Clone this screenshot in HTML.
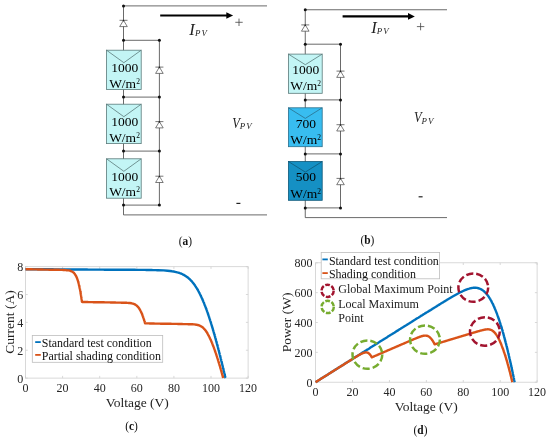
<!DOCTYPE html>
<html><head><meta charset="utf-8"><title>PV shading figure</title>
<style>html,body{margin:0;padding:0;background:#fff}body{width:550px;height:438px;position:relative;overflow:hidden}</style></head>
<body>
<svg width="550" height="438" viewBox="0 0 550 438" style="position:absolute;left:0;top:0">
<rect width="550" height="438" fill="#fff"/>
<style>text{font-family:"Liberation Serif",serif;fill:#222}.pt{font-size:13.5px;text-anchor:middle;fill:#000}.tk{font-size:12px;text-anchor:middle;fill:#262626}.tkr{font-size:12px;text-anchor:end;fill:#262626}.lg{font-size:11.93px;fill:#111}.ax{font-size:13.5px;fill:#222;text-anchor:middle}.cap{font-size:11.4px;text-anchor:middle;fill:#111}.it{font-style:italic;fill:#222}</style>
<path d="M267,5.9 H123.5 V214.9 H267" stroke="#444" stroke-width="0.8" fill="none"/>
<path d="M123.5,40.3 H159.4 V205.1 H123.5" stroke="#444" stroke-width="0.8" fill="none"/>
<path d="M123.5,97.1 H159.4" stroke="#444" stroke-width="0.8" fill="none"/>
<path d="M123.5,151.1 H159.4" stroke="#444" stroke-width="0.8" fill="none"/>
<circle cx="123.5" cy="5.9" r="1.5" fill="#111"/>
<circle cx="123.5" cy="40.3" r="1.5" fill="#111"/>
<circle cx="159.4" cy="40.3" r="1.5" fill="#111"/>
<circle cx="123.5" cy="97.1" r="1.5" fill="#111"/>
<circle cx="159.4" cy="97.1" r="1.5" fill="#111"/>
<circle cx="123.5" cy="151.1" r="1.5" fill="#111"/>
<circle cx="159.4" cy="151.1" r="1.5" fill="#111"/>
<circle cx="123.5" cy="205.1" r="1.5" fill="#111"/>
<circle cx="159.4" cy="205.1" r="1.5" fill="#111"/>
<path d="M123.5,20.3 L127.3,26.6 H119.7 Z" stroke="#444" stroke-width="0.7" fill="#fff"/><path d="M119.5,20.3 H127.5" stroke="#555" stroke-width="0.8"/><circle cx="123.5" cy="20.6" r="0.8" fill="#222"/>
<path d="M159.4,67.1 L163.20000000000002,73.39999999999999 H155.6 Z" stroke="#444" stroke-width="0.7" fill="#fff"/><path d="M155.4,67.1 H163.4" stroke="#555" stroke-width="0.8"/><circle cx="159.4" cy="67.39999999999999" r="0.8" fill="#222"/>
<path d="M159.4,121.6 L163.20000000000002,127.89999999999999 H155.6 Z" stroke="#444" stroke-width="0.7" fill="#fff"/><path d="M155.4,121.6 H163.4" stroke="#555" stroke-width="0.8"/><circle cx="159.4" cy="121.89999999999999" r="0.8" fill="#222"/>
<path d="M159.4,176.2 L163.20000000000002,182.5 H155.6 Z" stroke="#444" stroke-width="0.7" fill="#fff"/><path d="M155.4,176.2 H163.4" stroke="#555" stroke-width="0.8"/><circle cx="159.4" cy="176.5" r="0.8" fill="#222"/>
<rect x="106.5" y="50.2" width="34.69999999999999" height="39.3" fill="#c3f5f5" stroke="#5a7a7a" stroke-width="0.8"/>
<path d="M106.5,50.2 L123.85,62.7 L141.2,50.2" stroke="#5a7a7a" stroke-width="0.8" fill="none"/>
<text x="124.70" y="72.10" class="pt">1000</text>
<text x="124.50" y="87.60" class="pt">W/m<tspan dy="-3.8" font-size="7.5">2</tspan></text>
<rect x="106.5" y="104.2" width="34.69999999999999" height="39.39999999999999" fill="#c3f5f5" stroke="#5a7a7a" stroke-width="0.8"/>
<path d="M106.5,104.2 L123.85,116.7 L141.2,104.2" stroke="#5a7a7a" stroke-width="0.8" fill="none"/>
<text x="124.70" y="126.10" class="pt">1000</text>
<text x="124.50" y="141.60" class="pt">W/m<tspan dy="-3.8" font-size="7.5">2</tspan></text>
<rect x="106.5" y="158.8" width="34.69999999999999" height="39.39999999999998" fill="#c3f5f5" stroke="#5a7a7a" stroke-width="0.8"/>
<path d="M106.5,158.8 L123.85,171.3 L141.2,158.8" stroke="#5a7a7a" stroke-width="0.8" fill="none"/>
<text x="124.70" y="180.70" class="pt">1000</text>
<text x="124.50" y="196.20" class="pt">W/m<tspan dy="-3.8" font-size="7.5">2</tspan></text>
<path d="M447,9.75 H305.25 V217.6 H447" stroke="#444" stroke-width="0.8" fill="none"/>
<path d="M305.25,44.2 H340.5 V207.9 H305.25" stroke="#444" stroke-width="0.8" fill="none"/>
<path d="M305.25,99.9 H340.5" stroke="#444" stroke-width="0.8" fill="none"/>
<path d="M305.25,153.9 H340.5" stroke="#444" stroke-width="0.8" fill="none"/>
<circle cx="305.25" cy="9.75" r="1.5" fill="#111"/>
<circle cx="305.25" cy="44.2" r="1.5" fill="#111"/>
<circle cx="340.5" cy="44.2" r="1.5" fill="#111"/>
<circle cx="305.25" cy="99.9" r="1.5" fill="#111"/>
<circle cx="340.5" cy="99.9" r="1.5" fill="#111"/>
<circle cx="305.25" cy="153.9" r="1.5" fill="#111"/>
<circle cx="340.5" cy="153.9" r="1.5" fill="#111"/>
<circle cx="305.25" cy="207.9" r="1.5" fill="#111"/>
<circle cx="340.5" cy="207.9" r="1.5" fill="#111"/>
<path d="M305.25,24.9 L309.05,31.2 H301.45 Z" stroke="#444" stroke-width="0.7" fill="#fff"/><path d="M301.25,24.9 H309.25" stroke="#555" stroke-width="0.8"/><circle cx="305.25" cy="25.2" r="0.8" fill="#222"/>
<path d="M340.5,71.1 L344.3,77.39999999999999 H336.7 Z" stroke="#444" stroke-width="0.7" fill="#fff"/><path d="M336.5,71.1 H344.5" stroke="#555" stroke-width="0.8"/><circle cx="340.5" cy="71.39999999999999" r="0.8" fill="#222"/>
<path d="M340.5,124.7 L344.3,131.0 H336.7 Z" stroke="#444" stroke-width="0.7" fill="#fff"/><path d="M336.5,124.7 H344.5" stroke="#555" stroke-width="0.8"/><circle cx="340.5" cy="125.0" r="0.8" fill="#222"/>
<path d="M340.5,178.4 L344.3,184.70000000000002 H336.7 Z" stroke="#444" stroke-width="0.7" fill="#fff"/><path d="M336.5,178.4 H344.5" stroke="#555" stroke-width="0.8"/><circle cx="340.5" cy="178.70000000000002" r="0.8" fill="#222"/>
<rect x="288.4" y="54.1" width="33.80000000000001" height="39.199999999999996" fill="#c3f5f5" stroke="#5a7a7a" stroke-width="0.8"/>
<path d="M288.4,54.1 L305.30,64.7 L322.2,54.1" stroke="#5a7a7a" stroke-width="0.8" fill="none"/>
<text x="305.75" y="73.90" class="pt">1000</text>
<text x="305.55" y="90.20" class="pt">W/m<tspan dy="-3.8" font-size="7.5">2</tspan></text>
<rect x="288.4" y="107.8" width="33.80000000000001" height="38.89999999999999" fill="#38bdf0" stroke="#2a6f8c" stroke-width="0.8"/>
<path d="M288.4,107.8 L305.30,118.39999999999999 L322.2,107.8" stroke="#2a6f8c" stroke-width="0.8" fill="none"/>
<text x="305.75" y="127.60" class="pt">700</text>
<text x="305.55" y="143.90" class="pt">W/m<tspan dy="-3.8" font-size="7.5">2</tspan></text>
<rect x="288.4" y="161.5" width="33.80000000000001" height="38.80000000000001" fill="#1590c4" stroke="#0e5878" stroke-width="0.8"/>
<path d="M288.4,161.5 L305.30,172.1 L322.2,161.5" stroke="#0e5878" stroke-width="0.8" fill="none"/>
<text x="305.75" y="181.30" class="pt">500</text>
<text x="305.55" y="197.60" class="pt">W/m<tspan dy="-3.8" font-size="7.5">2</tspan></text>
<path d="M160.2,15.5 H227.1" stroke="#000" stroke-width="2.2"/><path d="M233.1,15.5 L226.29999999999998,12.15 V18.85 Z" fill="#000"/>
<path d="M342.6,16.4 H408.8" stroke="#000" stroke-width="2.2"/><path d="M414.8,16.4 L408.0,13.049999999999999 V19.75 Z" fill="#000"/>
<path d="M235.3,22.3 H242.7 M239.0,18.6 V26.0" stroke="#444" stroke-width="0.8"/>
<path d="M416.90000000000003,26.6 H424.3 M420.6,22.900000000000002 V30.3" stroke="#444" stroke-width="0.8"/>
<path d="M236.4,203.4 H240.4" stroke="#222" stroke-width="1.2"/>
<path d="M418.6,196.8 H422.6" stroke="#222" stroke-width="1.2"/>
<text x="189.3" y="34.6" class="it" font-size="16.5">I</text><text x="194.90" y="35.90" class="it" font-size="8.9" letter-spacing="1.1">PV</text>
<text x="371.2" y="33.0" class="it" font-size="16.5">I</text><text x="376.80" y="34.30" class="it" font-size="8.9" letter-spacing="1.1">PV</text>
<text transform="translate(232.3,127.5) scale(0.84,1.04)" class="it" font-size="15">V</text><text x="239.70" y="128.90" class="it" font-size="8.9" letter-spacing="1.1">PV</text>
<text transform="translate(414.1,122.1) scale(0.84,1.04)" class="it" font-size="15">V</text><text x="421.50" y="123.50" class="it" font-size="8.9" letter-spacing="1.1">PV</text>
<text transform="translate(185.3,244.7) scale(1,1.17)" class="cap">(<tspan font-weight="bold">a</tspan>)</text>
<text transform="translate(367.4,243.9) scale(1,1.17)" class="cap">(<tspan font-weight="bold">b</tspan>)</text>
<text transform="translate(131.5,429.7) scale(1,1.17)" class="cap">(<tspan font-weight="bold">c</tspan>)</text>
<text transform="translate(420.5,433.6) scale(1,1.17)" class="cap">(<tspan font-weight="bold">d</tspan>)</text>
<rect x="25.5" y="266.7" width="222.6" height="111.40000000000003" stroke="#cfcfcf" stroke-width="0.8" fill="none"/>
<text x="25.50" y="392.1" class="tk">0</text>
<text x="62.60" y="392.1" class="tk">20</text>
<text x="99.70" y="392.1" class="tk">40</text>
<text x="136.80" y="392.1" class="tk">60</text>
<text x="173.90" y="392.1" class="tk">80</text>
<text x="211.00" y="392.1" class="tk">100</text>
<text x="248.10" y="392.1" class="tk">120</text>
<text x="23.2" y="382.60" class="tkr">0</text>
<text x="23.2" y="354.74" class="tkr">2</text>
<text x="23.2" y="326.88" class="tkr">4</text>
<text x="23.2" y="299.02" class="tkr">6</text>
<text x="23.2" y="271.16" class="tkr">8</text>
<path d="M25.50,378.1 v-2.2 M25.50,266.7 v2.2 M62.60,378.1 v-2.2 M62.60,266.7 v2.2 M99.70,378.1 v-2.2 M99.70,266.7 v2.2 M136.80,378.1 v-2.2 M136.80,266.7 v2.2 M173.90,378.1 v-2.2 M173.90,266.7 v2.2 M211.00,378.1 v-2.2 M211.00,266.7 v2.2 M248.10,378.1 v-2.2 M248.10,266.7 v2.2 M25.5,378.10 h2.2 M248.1,378.10 h-2.2 M25.5,350.24 h2.2 M248.1,350.24 h-2.2 M25.5,322.38 h2.2 M248.1,322.38 h-2.2 M25.5,294.52 h2.2 M248.1,294.52 h-2.2 M25.5,266.66 h2.2 M248.1,266.66 h-2.2" stroke="#cfcfcf" stroke-width="0.8" fill="none"/>
<path d="M25.5,269.2 L26.6,269.2 L27.9,269.2 L29.1,269.2 L30.4,269.2 L31.6,269.2 L32.9,269.2 L34.2,269.2 L35.4,269.2 L36.7,269.3 L37.9,269.3 L39.2,269.3 L40.4,269.3 L41.7,269.3 L43.0,269.3 L44.2,269.3 L45.5,269.3 L46.7,269.3 L48.0,269.3 L49.2,269.3 L50.5,269.3 L51.8,269.3 L53.0,269.3 L53.8,269.4 L54.3,269.4 L55.5,269.4 L56.8,269.4 L58.1,269.4 L59.3,269.4 L60.6,269.4 L61.8,269.4 L63.1,269.4 L64.3,269.4 L65.6,269.4 L66.9,269.4 L68.1,269.4 L69.4,269.4 L70.6,269.5 L71.9,269.5 L73.1,269.5 L74.4,269.5 L75.7,269.5 L76.9,269.5 L78.2,269.5 L79.4,269.5 L80.7,269.5 L82.0,269.5 L83.2,269.5 L84.5,269.5 L85.7,269.5 L87.0,269.5 L88.2,269.6 L89.5,269.6 L90.7,269.6 L92.0,269.6 L93.3,269.6 L94.5,269.6 L95.8,269.6 L97.0,269.6 L98.3,269.6 L99.5,269.6 L100.0,269.6 L100.8,269.6 L102.0,269.6 L103.3,269.6 L104.5,269.7 L105.8,269.7 L107.0,269.7 L108.3,269.7 L109.5,269.7 L110.8,269.7 L112.0,269.7 L113.2,269.7 L114.5,269.7 L115.7,269.7 L116.9,269.7 L118.1,269.7 L119.4,269.7 L120.6,269.8 L121.8,269.8 L122.9,269.8 L124.1,269.8 L125.3,269.8 L126.4,269.8 L127.6,269.8 L128.7,269.8 L129.8,269.8 L130.9,269.8 L132.0,269.8 L133.0,269.8 L134.0,269.8 L135.0,269.8 L136.0,269.9 L136.9,269.9 L137.8,269.9 L138.7,269.9 L139.6,269.9 L140.4,269.9 L141.2,269.9 L142.0,269.9 L142.7,269.9 L143.5,269.9 L144.2,269.9 L144.8,269.9 L145.5,269.9 L146.1,270.0 L146.7,270.0 L147.2,270.0 L147.8,270.0 L148.3,270.0 L148.8,270.0 L149.3,270.0 L149.8,270.0 L150.3,270.0 L151.1,270.0 L151.9,270.0 L152.7,270.1 L153.4,270.1 L154.1,270.1 L154.7,270.1 L155.3,270.1 L155.9,270.1 L156.4,270.1 L156.9,270.2 L157.4,270.2 L157.9,270.2 L163.7,270.4 L167.4,270.7 L170.0,271.0 L172.0,271.3 L173.7,271.5 L175.1,271.8 L176.3,272.1 L177.3,272.4 L178.3,272.6 L179.2,272.9 L179.9,273.2 L180.7,273.5 L181.3,273.7 L182.0,274.0 L182.6,274.3 L183.1,274.6 L183.7,274.8 L184.2,275.1 L184.6,275.4 L185.1,275.7 L185.5,275.9 L185.9,276.2 L186.3,276.5 L186.7,276.7 L187.1,277.0 L187.5,277.3 L187.8,277.6 L188.1,277.8 L188.5,278.1 L188.8,278.4 L189.1,278.7 L189.4,278.9 L189.7,279.2 L190.0,279.5 L190.3,279.8 L190.5,280.0 L190.8,280.3 L191.1,280.6 L191.3,280.9 L191.6,281.1 L191.8,281.4 L192.0,281.7 L192.3,282.0 L192.5,282.2 L192.7,282.5 L193.0,282.8 L193.2,283.0 L193.4,283.3 L193.6,283.6 L193.8,283.9 L194.0,284.1 L194.2,284.4 L194.4,284.7 L194.6,285.0 L194.8,285.2 L195.0,285.5 L195.2,285.8 L195.4,286.1 L195.5,286.3 L195.7,286.6 L195.9,286.9 L196.2,287.4 L196.6,288.0 L196.9,288.5 L197.2,289.1 L197.6,289.6 L197.9,290.2 L198.2,290.7 L198.5,291.3 L198.8,291.8 L199.1,292.4 L199.4,292.9 L199.6,293.5 L199.9,294.0 L200.2,294.6 L200.5,295.1 L200.7,295.6 L201.0,296.2 L201.2,296.7 L201.5,297.3 L201.7,297.8 L202.0,298.4 L202.2,298.9 L202.5,299.5 L202.7,300.0 L202.9,300.6 L203.2,301.1 L203.4,301.7 L203.6,302.2 L203.9,302.8 L204.1,303.3 L204.3,303.9 L204.5,304.4 L204.7,305.0 L204.9,305.5 L205.2,306.1 L205.4,306.6 L205.6,307.2 L205.8,307.7 L206.0,308.2 L206.2,308.8 L206.4,309.3 L206.6,309.9 L206.8,310.4 L207.0,311.0 L207.2,311.5 L207.4,312.1 L207.6,312.6 L207.8,313.2 L207.9,313.7 L208.1,314.3 L208.3,314.8 L208.5,315.4 L208.7,315.9 L208.9,316.5 L209.1,317.0 L209.2,317.6 L209.4,318.1 L209.6,318.7 L209.8,319.2 L210.0,319.8 L210.1,320.3 L210.3,320.9 L210.5,321.4 L210.7,321.9 L210.8,322.5 L211.0,323.0 L211.2,323.6 L211.3,324.1 L211.5,324.7 L211.7,325.2 L211.8,325.8 L212.0,326.3 L212.2,326.9 L212.3,327.4 L212.5,328.0 L212.7,328.5 L212.8,329.1 L213.0,329.6 L213.1,330.2 L213.3,330.7 L213.5,331.3 L213.6,331.8 L213.8,332.4 L213.9,332.9 L214.1,333.5 L214.3,334.0 L214.4,334.5 L214.6,335.1 L214.7,335.6 L214.9,336.2 L215.0,336.7 L215.2,337.3 L215.3,337.8 L215.5,338.4 L215.6,338.9 L215.8,339.5 L215.9,340.0 L216.1,340.6 L216.2,341.1 L216.4,341.7 L216.5,342.2 L216.7,342.8 L216.8,343.3 L217.0,343.9 L217.1,344.4 L217.3,345.0 L217.4,345.5 L217.6,346.1 L217.7,346.6 L217.9,347.1 L218.0,347.7 L218.1,348.2 L218.3,348.8 L218.4,349.3 L218.6,349.9 L218.7,350.4 L218.9,351.0 L219.0,351.5 L219.1,352.1 L219.3,352.6 L219.4,353.2 L219.6,353.7 L219.7,354.3 L219.8,354.8 L220.0,355.4 L220.1,355.9 L220.3,356.5 L220.4,357.0 L220.5,357.6 L220.7,358.1 L220.8,358.7 L220.9,359.2 L221.1,359.7 L221.2,360.3 L221.3,360.8 L221.5,361.4 L221.6,361.9 L221.8,362.5 L221.9,363.0 L222.0,363.6 L222.2,364.1 L222.3,364.7 L222.4,365.2 L222.6,365.8 L222.7,366.3 L222.8,366.9 L223.0,367.4 L223.1,368.0 L223.2,368.5 L223.4,369.1 L223.5,369.6 L223.6,370.2 L223.7,370.7 L223.9,371.3 L224.0,371.8 L224.1,372.3 L224.3,372.9 L224.4,373.4 L224.5,374.0 L224.7,374.5 L224.8,375.1 L224.9,375.6 L225.0,376.2 L225.2,376.7 L225.3,377.3 L225.4,377.8 L225.5,378.1" stroke="#0072bd" stroke-width="2.4" fill="none" stroke-linejoin="round"/>
<path d="M25.5,269.2 L26.0,269.2 L26.9,269.3 L27.7,269.3 L28.5,269.3 L29.4,269.3 L30.2,269.3 L31.1,269.3 L31.9,269.3 L32.7,269.4 L33.6,269.4 L34.4,269.4 L35.2,269.4 L36.1,269.4 L36.9,269.4 L37.8,269.5 L38.6,269.5 L39.4,269.5 L40.3,269.5 L41.1,269.5 L42.0,269.5 L42.8,269.5 L43.6,269.6 L44.5,269.6 L45.3,269.6 L46.1,269.6 L47.0,269.6 L47.5,269.6 L48.2,269.6 L49.1,269.7 L49.9,269.7 L50.7,269.7 L51.6,269.7 L52.4,269.7 L53.2,269.7 L54.0,269.7 L54.8,269.8 L55.6,269.8 L56.4,269.8 L57.1,269.8 L57.8,269.8 L58.5,269.8 L59.2,269.8 L59.8,269.9 L60.4,269.9 L61.0,269.9 L61.5,269.9 L62.0,269.9 L62.5,269.9 L63.1,270.0 L63.6,270.0 L64.1,270.0 L64.5,270.0 L65.1,270.1 L65.5,270.1 L66.0,270.1 L66.5,270.2 L68.7,270.4 L69.9,270.7 L70.8,271.0 L71.5,271.3 L72.0,271.5 L72.5,271.8 L72.9,272.1 L73.3,272.4 L73.6,272.6 L73.9,272.9 L74.1,273.2 L74.4,273.5 L74.6,273.7 L74.8,274.0 L75.0,274.3 L75.2,274.6 L75.5,275.1 L75.8,275.7 L76.1,276.2 L76.4,276.7 L76.6,277.3 L76.9,277.8 L77.1,278.4 L77.3,278.9 L77.5,279.5 L77.7,280.0 L77.8,280.6 L78.0,281.1 L78.2,281.7 L78.3,282.2 L78.5,282.8 L78.6,283.3 L78.8,283.9 L78.9,284.4 L79.0,285.0 L79.1,285.5 L79.3,286.1 L79.4,286.6 L79.5,287.2 L79.6,287.7 L79.7,288.3 L79.8,288.8 L80.0,289.3 L80.1,289.9 L80.2,290.4 L80.3,291.0 L80.4,291.5 L80.5,292.1 L80.6,292.6 L80.6,293.2 L80.7,293.7 L80.8,294.3 L80.9,294.8 L81.0,295.4 L81.1,295.9 L81.2,296.5 L81.3,297.0 L81.4,297.6 L81.4,298.1 L81.5,298.7 L81.6,299.2 L81.7,299.8 L81.8,300.3 L81.8,300.8 L81.9,301.2 L81.9,301.6 L82.0,301.9 L82.5,302.0 L83.4,302.0 L84.2,302.0 L85.1,302.0 L85.9,302.0 L86.7,302.0 L87.6,302.0 L88.4,302.1 L89.3,302.1 L90.1,302.1 L90.9,302.1 L91.8,302.1 L92.6,302.1 L93.5,302.2 L94.3,302.2 L95.1,302.2 L96.0,302.2 L96.8,302.2 L97.5,302.2 L98.1,302.2 L98.9,302.2 L99.8,302.3 L100.6,302.3 L101.4,302.3 L102.3,302.3 L103.1,302.3 L104.0,302.3 L104.8,302.4 L105.6,302.4 L106.5,302.4 L107.3,302.4 L108.2,302.4 L109.0,302.4 L109.8,302.4 L110.7,302.5 L111.5,302.5 L112.4,302.5 L112.9,302.5 L113.6,302.5 L114.4,302.5 L115.2,302.5 L116.1,302.6 L116.9,302.6 L117.7,302.6 L118.4,302.6 L119.2,302.6 L120.0,302.6 L120.7,302.6 L121.4,302.7 L122.0,302.7 L122.6,302.7 L123.2,302.7 L123.8,302.7 L124.3,302.7 L124.8,302.7 L125.2,302.8 L125.8,302.8 L126.3,302.8 L126.8,302.8 L127.2,302.9 L127.7,302.9 L128.2,302.9 L128.7,303.0 L129.1,303.0 L129.7,303.0 L131.6,303.3 L132.8,303.6 L133.7,303.9 L134.3,304.1 L134.9,304.4 L135.4,304.7 L135.8,305.0 L136.2,305.2 L136.6,305.5 L136.9,305.8 L137.2,306.1 L137.4,306.3 L137.7,306.6 L137.9,306.9 L138.2,307.2 L138.4,307.4 L138.6,307.7 L138.8,308.0 L139.0,308.2 L139.2,308.5 L139.4,308.8 L139.7,309.3 L140.0,309.9 L140.3,310.4 L140.6,311.0 L140.9,311.5 L141.1,312.1 L141.4,312.6 L141.6,313.2 L141.9,313.7 L142.1,314.3 L142.3,314.8 L142.5,315.4 L142.7,315.9 L142.9,316.5 L143.1,317.0 L143.3,317.6 L143.5,318.1 L143.7,318.7 L143.9,319.2 L144.0,319.8 L144.2,320.3 L144.4,320.9 L144.6,321.4 L144.7,321.9 L144.8,322.3 L144.9,322.6 L145.0,323.0 L145.1,323.3 L145.6,323.4 L146.4,323.4 L147.3,323.4 L148.1,323.4 L148.9,323.4 L149.8,323.5 L150.6,323.5 L151.5,323.5 L152.3,323.5 L153.2,323.5 L154.0,323.5 L154.8,323.6 L155.7,323.6 L156.5,323.6 L157.4,323.6 L158.2,323.6 L159.1,323.6 L159.9,323.6 L160.7,323.7 L161.6,323.7 L162.4,323.7 L163.3,323.7 L164.1,323.7 L165.0,323.7 L165.8,323.7 L166.6,323.8 L167.5,323.8 L168.3,323.8 L169.2,323.8 L170.0,323.8 L170.9,323.8 L171.7,323.9 L172.4,323.9 L173.0,323.9 L173.8,323.9 L174.6,323.9 L175.5,323.9 L176.3,323.9 L177.2,323.9 L178.0,324.0 L178.8,324.0 L179.6,324.0 L180.5,324.0 L181.3,324.0 L182.1,324.0 L182.9,324.1 L183.7,324.1 L184.4,324.1 L185.2,324.1 L185.9,324.1 L186.6,324.1 L187.1,324.1 L187.6,324.1 L188.2,324.2 L188.7,324.2 L189.2,324.2 L189.7,324.2 L190.2,324.2 L190.8,324.2 L191.4,324.3 L191.9,324.3 L192.3,324.3 L192.8,324.3 L193.3,324.4 L193.8,324.4 L194.3,324.4 L196.3,324.7 L197.7,325.0 L198.7,325.2 L199.4,325.5 L200.1,325.8 L200.6,326.1 L201.1,326.3 L201.6,326.6 L202.0,326.9 L202.3,327.2 L202.7,327.4 L203.0,327.7 L203.3,328.0 L203.6,328.2 L203.8,328.5 L204.1,328.8 L204.3,329.1 L204.6,329.3 L204.8,329.6 L205.0,329.9 L205.3,330.2 L205.5,330.4 L205.7,330.7 L205.9,331.0 L206.1,331.3 L206.2,331.5 L206.4,331.8 L206.6,332.1 L207.0,332.6 L207.3,333.2 L207.6,333.7 L207.9,334.3 L208.2,334.8 L208.5,335.4 L208.8,335.9 L209.1,336.5 L209.4,337.0 L209.6,337.6 L209.9,338.1 L210.2,338.7 L210.4,339.2 L210.7,339.8 L210.9,340.3 L211.1,340.8 L211.4,341.4 L211.6,341.9 L211.8,342.5 L212.1,343.0 L212.3,343.6 L212.5,344.1 L212.7,344.7 L212.9,345.2 L213.1,345.8 L213.4,346.3 L213.6,346.9 L213.8,347.4 L214.0,348.0 L214.2,348.5 L214.4,349.1 L214.6,349.6 L214.8,350.2 L215.0,350.7 L215.1,351.3 L215.3,351.8 L215.5,352.4 L215.7,352.9 L215.9,353.4 L216.1,354.0 L216.3,354.5 L216.4,355.1 L216.6,355.6 L216.8,356.2 L217.0,356.7 L217.2,357.3 L217.3,357.8 L217.5,358.4 L217.7,358.9 L217.9,359.5 L218.0,360.0 L218.2,360.6 L218.4,361.1 L218.5,361.7 L218.7,362.2 L218.9,362.8 L219.0,363.3 L219.2,363.9 L219.4,364.4 L219.5,365.0 L219.7,365.5 L219.9,366.0 L220.0,366.6 L220.2,367.1 L220.3,367.7 L220.5,368.2 L220.7,368.8 L220.8,369.3 L221.0,369.9 L221.1,370.4 L221.3,371.0 L221.4,371.5 L221.6,372.1 L221.7,372.6 L221.9,373.2 L222.0,373.7 L222.2,374.3 L222.3,374.8 L222.5,375.4 L222.6,375.9 L222.8,376.5 L222.9,377.0 L223.1,377.6 L223.2,378.1" stroke="#d95319" stroke-width="2.4" fill="none" stroke-linejoin="round"/>
<text x="137.3" y="406.6" class="ax">Voltage (V)</text>
<text transform="translate(13.5,322) rotate(-90)" class="ax">Current (A)</text>
<rect x="32.3" y="335.5" width="130.4" height="26.8" fill="#fff" stroke="#bdbdbd" stroke-width="0.8"/>
<path d="M35.2,342.1 H40.8" stroke="#0072bd" stroke-width="1.8"/><path d="M35.2,354.9 H40.8" stroke="#d95319" stroke-width="1.8"/>
<text x="41.8" y="346.8" class="lg">Standard test condition</text>
<text x="41.8" y="359.9" class="lg">Partial shading condition</text>
<rect x="315.6" y="262.8" width="221.5" height="119.39999999999998" stroke="#cfcfcf" stroke-width="0.8" fill="none"/>
<text x="315.60" y="396.0" class="tk">0</text>
<text x="352.52" y="396.0" class="tk">20</text>
<text x="389.44" y="396.0" class="tk">40</text>
<text x="426.36" y="396.0" class="tk">60</text>
<text x="463.28" y="396.0" class="tk">80</text>
<text x="500.20" y="396.0" class="tk">100</text>
<text x="537.12" y="396.0" class="tk">120</text>
<text x="312.4" y="386.70" class="tkr">0</text>
<text x="312.4" y="356.85" class="tkr">200</text>
<text x="312.4" y="327.00" class="tkr">400</text>
<text x="312.4" y="297.15" class="tkr">600</text>
<text x="312.4" y="267.30" class="tkr">800</text>
<path d="M315.60,382.2 v-2.2 M315.60,262.8 v2.2 M352.52,382.2 v-2.2 M352.52,262.8 v2.2 M389.44,382.2 v-2.2 M389.44,262.8 v2.2 M426.36,382.2 v-2.2 M426.36,262.8 v2.2 M463.28,382.2 v-2.2 M463.28,262.8 v2.2 M500.20,382.2 v-2.2 M500.20,262.8 v2.2 M537.12,382.2 v-2.2 M537.12,262.8 v2.2 M315.6,382.20 h2.2 M537.1,382.20 h-2.2 M315.6,352.35 h2.2 M537.1,352.35 h-2.2 M315.6,322.50 h2.2 M537.1,322.50 h-2.2 M315.6,292.65 h2.2 M537.1,292.65 h-2.2 M315.6,262.80 h2.2 M537.1,262.80 h-2.2" stroke="#cfcfcf" stroke-width="0.8" fill="none"/>
<path d="M315.6,382.2 L316.7,381.5 L318.0,380.7 L319.2,379.9 L320.5,379.1 L321.7,378.3 L323.0,377.5 L324.2,376.8 L325.5,376.0 L326.7,375.2 L328.0,374.4 L329.2,373.6 L330.5,372.8 L331.7,372.0 L333.0,371.2 L334.2,370.4 L335.5,369.6 L336.7,368.9 L338.0,368.1 L339.2,367.3 L340.5,366.5 L341.7,365.7 L343.0,364.9 L343.8,364.4 L344.2,364.1 L345.5,363.3 L346.7,362.5 L348.0,361.8 L349.2,361.0 L350.5,360.2 L351.8,359.4 L353.0,358.6 L354.3,357.8 L355.5,357.0 L356.8,356.2 L358.0,355.5 L359.3,354.7 L360.5,353.9 L361.8,353.1 L363.0,352.3 L364.3,351.5 L365.5,350.7 L366.8,349.9 L368.0,349.2 L369.3,348.4 L370.5,347.6 L371.8,346.8 L373.0,346.0 L374.3,345.2 L375.5,344.4 L376.8,343.7 L378.0,342.9 L379.3,342.1 L380.5,341.3 L381.8,340.5 L383.0,339.7 L384.3,338.9 L385.5,338.2 L386.8,337.4 L388.0,336.6 L389.3,335.8 L389.7,335.5 L390.5,335.0 L391.8,334.3 L393.0,333.5 L394.3,332.7 L395.5,331.9 L396.7,331.1 L398.0,330.4 L399.2,329.6 L400.5,328.8 L401.7,328.0 L402.9,327.3 L404.1,326.5 L405.4,325.7 L406.6,325.0 L407.8,324.2 L409.0,323.5 L410.2,322.7 L411.4,322.0 L412.6,321.2 L413.7,320.5 L414.9,319.8 L416.0,319.1 L417.2,318.3 L418.3,317.7 L419.4,317.0 L420.5,316.3 L421.5,315.6 L422.6,315.0 L423.6,314.3 L424.6,313.7 L425.5,313.1 L426.5,312.5 L427.4,312.0 L428.3,311.4 L429.1,310.9 L430.0,310.4 L430.8,309.9 L431.5,309.4 L432.3,308.9 L433.0,308.5 L433.7,308.1 L434.3,307.7 L435.0,307.3 L435.6,306.9 L436.2,306.5 L436.8,306.2 L437.3,305.8 L437.8,305.5 L438.3,305.2 L438.8,304.9 L439.3,304.6 L439.8,304.3 L440.2,304.0 L440.6,303.8 L441.0,303.5 L441.4,303.3 L441.8,303.0 L442.2,302.8 L442.5,302.6 L442.9,302.4 L443.2,302.2 L443.6,302.0 L443.9,301.8 L444.2,301.6 L444.5,301.4 L444.8,301.2 L445.1,301.1 L445.6,300.7 L446.2,300.4 L446.6,300.1 L447.1,299.8 L447.6,299.5 L453.1,296.3 L456.8,294.2 L459.4,292.8 L461.4,291.8 L463.1,291.0 L464.4,290.4 L465.6,289.9 L466.7,289.5 L467.6,289.1 L468.5,288.8 L469.3,288.6 L470.0,288.4 L470.7,288.3 L471.3,288.1 L471.9,288.0 L472.5,287.9 L473.0,287.9 L473.5,287.8 L474.0,287.8 L474.4,287.8 L475.3,287.8 L476.0,287.8 L476.8,287.9 L477.5,288.0 L478.1,288.2 L478.7,288.3 L479.3,288.5 L479.8,288.7 L480.4,289.0 L480.9,289.2 L481.3,289.5 L481.8,289.7 L482.2,290.0 L482.7,290.3 L483.1,290.6 L483.5,290.9 L483.9,291.2 L484.3,291.6 L484.6,291.9 L485.0,292.2 L485.3,292.6 L485.7,293.0 L486.0,293.3 L486.4,293.7 L486.7,294.1 L487.0,294.5 L487.3,294.8 L487.6,295.2 L487.9,295.6 L488.2,296.0 L488.5,296.4 L488.8,296.9 L489.0,297.3 L489.3,297.7 L489.6,298.1 L489.8,298.5 L490.1,299.0 L490.4,299.4 L490.6,299.8 L490.9,300.3 L491.1,300.7 L491.4,301.2 L491.6,301.6 L491.8,302.1 L492.1,302.5 L492.3,303.0 L492.5,303.4 L492.8,303.9 L493.0,304.4 L493.2,304.8 L493.4,305.3 L493.6,305.8 L493.9,306.2 L494.1,306.7 L494.3,307.2 L494.5,307.7 L494.7,308.2 L494.9,308.7 L495.1,309.1 L495.3,309.6 L495.5,310.1 L495.7,310.6 L495.9,311.1 L496.1,311.6 L496.3,312.1 L496.5,312.6 L496.7,313.1 L496.9,313.6 L497.1,314.1 L497.3,314.6 L497.4,315.1 L497.6,315.6 L497.8,316.2 L498.0,316.7 L498.2,317.2 L498.4,317.7 L498.5,318.2 L498.7,318.7 L498.9,319.3 L499.1,319.8 L499.2,320.3 L499.4,320.8 L499.6,321.4 L499.8,321.9 L499.9,322.4 L500.1,322.9 L500.3,323.5 L500.4,324.0 L500.6,324.5 L500.8,325.1 L501.0,325.6 L501.1,326.2 L501.3,326.7 L501.4,327.2 L501.6,327.8 L501.8,328.3 L501.9,328.9 L502.1,329.4 L502.3,330.0 L502.4,330.5 L502.6,331.1 L502.7,331.6 L502.9,332.2 L503.1,332.7 L503.2,333.3 L503.4,333.8 L503.5,334.4 L503.7,335.0 L503.8,335.5 L504.0,336.1 L504.1,336.6 L504.3,337.2 L504.4,337.8 L504.6,338.3 L504.7,338.9 L504.9,339.5 L505.0,340.0 L505.2,340.6 L505.3,341.2 L505.5,341.7 L505.6,342.3 L505.8,342.9 L505.9,343.5 L506.1,344.0 L506.2,344.6 L506.4,345.2 L506.5,345.8 L506.7,346.4 L506.8,346.9 L507.0,347.5 L507.1,348.1 L507.2,348.7 L507.4,349.3 L507.5,349.9 L507.7,350.4 L507.8,351.0 L507.9,351.6 L508.1,352.2 L508.2,352.8 L508.4,353.4 L508.5,354.0 L508.7,354.6 L508.8,355.2 L508.9,355.8 L509.1,356.4 L509.2,357.0 L509.3,357.6 L509.5,358.2 L509.6,358.8 L509.8,359.4 L509.9,360.0 L510.0,360.6 L510.2,361.2 L510.3,361.8 L510.4,362.4 L510.6,363.0 L510.7,363.6 L510.8,364.2 L511.0,364.8 L511.1,365.4 L511.2,366.0 L511.4,366.6 L511.5,367.3 L511.6,367.9 L511.8,368.5 L511.9,369.1 L512.0,369.7 L512.2,370.3 L512.3,370.9 L512.4,371.6 L512.6,372.2 L512.7,372.8 L512.8,373.4 L512.9,374.0 L513.1,374.7 L513.2,375.3 L513.3,375.9 L513.5,376.5 L513.6,377.2 L513.7,377.8 L513.9,378.4 L514.0,379.0 L514.1,379.7 L514.2,380.3 L514.4,380.9 L514.5,381.6 L514.6,382.2" stroke="#0072bd" stroke-width="2.4" fill="none" stroke-linejoin="round"/>
<path d="M315.6,382.2 L316.1,381.9 L316.5,381.6 L317.0,381.3 L317.4,381.1 L317.8,380.8 L318.2,380.6 L318.6,380.3 L319.0,380.0 L319.5,379.8 L319.9,379.5 L320.3,379.2 L320.7,379.0 L321.1,378.7 L321.5,378.4 L322.0,378.2 L322.4,377.9 L322.8,377.7 L323.2,377.4 L323.6,377.1 L324.0,376.9 L324.5,376.6 L324.9,376.3 L325.3,376.1 L325.7,375.8 L326.1,375.6 L326.6,375.3 L327.0,375.0 L327.4,374.8 L327.8,374.5 L328.2,374.2 L328.6,374.0 L329.1,373.7 L329.5,373.5 L329.9,373.2 L330.3,372.9 L330.7,372.7 L331.1,372.4 L331.6,372.1 L332.0,371.9 L332.4,371.6 L332.8,371.4 L333.2,371.1 L333.6,370.8 L334.1,370.6 L334.5,370.3 L334.9,370.0 L335.3,369.8 L335.7,369.5 L336.1,369.3 L336.6,369.0 L337.0,368.7 L337.4,368.5 L337.8,368.2 L338.2,368.0 L338.6,367.7 L339.0,367.4 L339.5,367.2 L339.9,366.9 L340.3,366.7 L340.7,366.4 L341.1,366.1 L341.5,365.9 L341.9,365.6 L342.3,365.4 L342.8,365.1 L343.2,364.9 L343.6,364.6 L344.0,364.4 L344.4,364.1 L344.8,363.9 L345.1,363.6 L345.5,363.4 L345.9,363.1 L346.3,362.9 L346.7,362.7 L347.1,362.4 L347.4,362.2 L347.8,362.0 L348.1,361.8 L348.5,361.5 L348.8,361.3 L349.1,361.1 L349.5,360.9 L349.8,360.7 L350.1,360.5 L350.4,360.4 L350.7,360.2 L351.2,359.8 L351.7,359.5 L352.2,359.2 L352.6,359.0 L353.0,358.7 L353.4,358.5 L353.7,358.3 L354.0,358.1 L354.3,357.9 L354.7,357.7 L355.1,357.4 L355.4,357.2 L355.7,357.0 L356.0,356.9 L356.4,356.7 L356.7,356.5 L358.6,355.3 L359.8,354.6 L360.7,354.2 L361.4,353.8 L361.9,353.6 L362.4,353.3 L362.8,353.2 L363.1,353.0 L363.7,352.8 L364.2,352.7 L364.7,352.6 L365.1,352.5 L365.6,352.4 L366.0,352.4 L366.5,352.4 L366.9,352.5 L367.3,352.6 L367.7,352.7 L368.0,352.9 L368.3,353.0 L368.6,353.2 L368.9,353.4 L369.1,353.6 L369.3,353.8 L369.6,354.1 L369.8,354.3 L370.1,354.6 L370.3,355.0 L370.6,355.3 L370.8,355.6 L371.0,355.9 L371.2,356.3 L371.4,356.6 L371.6,357.0 L371.8,357.3 L372.4,357.1 L372.8,356.9 L373.2,356.8 L373.6,356.6 L374.0,356.4 L374.4,356.2 L374.9,356.0 L375.3,355.8 L375.7,355.7 L376.1,355.5 L376.5,355.3 L377.0,355.1 L377.4,354.9 L377.8,354.7 L378.2,354.6 L378.6,354.4 L379.1,354.2 L379.5,354.0 L379.9,353.8 L380.3,353.7 L380.7,353.5 L381.1,353.3 L381.6,353.1 L382.0,352.9 L382.4,352.8 L382.8,352.6 L383.2,352.4 L383.7,352.2 L384.1,352.0 L384.5,351.8 L384.9,351.7 L385.3,351.5 L385.7,351.3 L386.2,351.1 L386.6,350.9 L387.0,350.8 L387.4,350.6 L387.8,350.4 L388.3,350.2 L388.7,350.0 L389.1,349.9 L389.5,349.7 L389.9,349.5 L390.3,349.3 L390.8,349.1 L391.2,348.9 L391.6,348.8 L392.0,348.6 L392.4,348.4 L392.9,348.2 L393.3,348.0 L393.7,347.9 L394.1,347.7 L394.5,347.5 L394.9,347.3 L395.4,347.1 L395.8,347.0 L396.2,346.8 L396.6,346.6 L397.0,346.4 L397.4,346.2 L397.9,346.1 L398.3,345.9 L398.7,345.7 L399.1,345.5 L399.5,345.3 L400.0,345.2 L400.4,345.0 L400.8,344.8 L401.2,344.6 L401.6,344.4 L402.0,344.3 L402.4,344.1 L402.9,343.9 L403.3,343.7 L403.7,343.6 L404.1,343.4 L404.5,343.2 L404.9,343.0 L405.3,342.9 L405.7,342.7 L406.1,342.5 L406.5,342.3 L406.9,342.2 L407.3,342.0 L407.7,341.8 L408.1,341.7 L408.5,341.5 L408.9,341.3 L409.2,341.2 L409.6,341.0 L410.0,340.9 L410.3,340.7 L410.7,340.6 L411.0,340.4 L411.3,340.3 L411.7,340.1 L412.3,339.9 L412.9,339.6 L413.4,339.4 L413.9,339.2 L414.4,339.0 L414.8,338.8 L415.2,338.7 L415.6,338.5 L415.9,338.4 L416.3,338.2 L416.7,338.0 L417.1,337.9 L417.5,337.7 L417.8,337.6 L418.2,337.4 L418.6,337.3 L418.9,337.2 L419.3,337.0 L421.2,336.4 L422.4,336.0 L423.2,335.8 L423.9,335.7 L424.5,335.6 L425.0,335.6 L425.8,335.6 L426.4,335.7 L427.0,335.8 L427.5,335.9 L427.9,336.1 L428.3,336.3 L428.7,336.5 L429.1,336.7 L429.4,337.0 L429.7,337.2 L430.0,337.5 L430.3,337.7 L430.5,338.0 L430.8,338.2 L431.0,338.5 L431.3,338.8 L431.5,339.1 L431.7,339.4 L431.9,339.7 L432.1,340.0 L432.4,340.2 L432.6,340.5 L432.7,340.9 L432.9,341.2 L433.1,341.5 L433.3,341.8 L433.5,342.1 L433.7,342.4 L433.8,342.7 L434.0,343.0 L434.2,343.4 L434.3,343.7 L434.5,344.0 L434.6,344.3 L435.1,344.3 L435.5,344.1 L435.9,344.0 L436.3,343.9 L436.8,343.7 L437.2,343.6 L437.6,343.5 L438.0,343.4 L438.4,343.2 L438.9,343.1 L439.3,343.0 L439.7,342.9 L440.1,342.7 L440.5,342.6 L441.0,342.5 L441.4,342.3 L441.8,342.2 L442.2,342.1 L442.6,342.0 L443.1,341.8 L443.5,341.7 L443.9,341.6 L444.3,341.5 L444.7,341.3 L445.1,341.2 L445.6,341.1 L446.0,340.9 L446.4,340.8 L446.8,340.7 L447.2,340.6 L447.7,340.4 L448.1,340.3 L448.5,340.2 L448.9,340.1 L449.3,339.9 L449.8,339.8 L450.2,339.7 L450.6,339.5 L451.0,339.4 L451.4,339.3 L451.9,339.2 L452.3,339.0 L452.7,338.9 L453.1,338.8 L453.5,338.7 L454.0,338.5 L454.4,338.4 L454.8,338.3 L455.2,338.2 L455.6,338.0 L456.1,337.9 L456.5,337.8 L456.9,337.7 L457.3,337.5 L457.7,337.4 L458.1,337.3 L458.6,337.1 L459.0,337.0 L459.4,336.9 L459.8,336.8 L460.2,336.6 L460.7,336.5 L461.1,336.4 L461.5,336.3 L461.9,336.1 L462.3,336.0 L462.8,335.9 L463.2,335.8 L463.6,335.6 L464.0,335.5 L464.4,335.4 L464.8,335.3 L465.3,335.1 L465.7,335.0 L466.1,334.9 L466.5,334.8 L466.9,334.6 L467.3,334.5 L467.8,334.4 L468.2,334.3 L468.6,334.1 L469.0,334.0 L469.4,333.9 L469.8,333.8 L470.2,333.7 L470.6,333.5 L471.0,333.4 L471.4,333.3 L471.8,333.2 L472.2,333.1 L472.6,333.0 L473.0,332.8 L473.4,332.7 L473.8,332.6 L474.1,332.5 L474.5,332.4 L474.9,332.3 L475.2,332.2 L475.9,332.0 L476.4,331.8 L476.9,331.7 L477.5,331.5 L478.0,331.4 L478.6,331.2 L479.0,331.1 L479.5,331.0 L479.9,330.8 L480.3,330.7 L480.7,330.6 L481.1,330.5 L481.6,330.4 L482.0,330.3 L482.4,330.2 L482.8,330.1 L483.2,330.0 L483.6,329.9 L485.5,329.5 L486.9,329.4 L487.9,329.3 L488.7,329.4 L489.3,329.4 L489.9,329.6 L490.4,329.7 L490.8,329.8 L491.2,330.0 L491.6,330.2 L491.9,330.3 L492.2,330.5 L492.5,330.7 L492.8,330.9 L493.1,331.1 L493.3,331.3 L493.6,331.6 L493.8,331.8 L494.3,332.2 L494.7,332.7 L495.1,333.1 L495.5,333.6 L495.8,334.1 L496.2,334.5 L496.5,335.0 L496.8,335.5 L497.1,336.0 L497.4,336.5 L497.7,337.0 L498.0,337.5 L498.3,338.0 L498.6,338.6 L498.8,339.1 L499.1,339.6 L499.4,340.1 L499.6,340.7 L499.9,341.2 L500.1,341.7 L500.3,342.3 L500.6,342.8 L500.8,343.3 L501.0,343.9 L501.3,344.4 L501.5,345.0 L501.7,345.5 L501.9,346.1 L502.1,346.6 L502.3,347.2 L502.5,347.7 L502.7,348.3 L503.0,348.8 L503.2,349.4 L503.4,350.0 L503.6,350.5 L503.7,351.1 L503.9,351.7 L504.1,352.2 L504.3,352.8 L504.5,353.4 L504.7,353.9 L504.9,354.5 L505.1,355.1 L505.3,355.7 L505.4,356.2 L505.6,356.8 L505.8,357.4 L506.0,358.0 L506.2,358.6 L506.3,359.2 L506.5,359.7 L506.7,360.3 L506.9,360.9 L507.0,361.5 L507.2,362.1 L507.4,362.7 L507.5,363.3 L507.7,363.9 L507.9,364.5 L508.0,365.1 L508.2,365.7 L508.4,366.3 L508.5,366.9 L508.7,367.5 L508.9,368.1 L509.0,368.7 L509.2,369.3 L509.3,369.9 L509.5,370.5 L509.6,371.1 L509.8,371.7 L510.0,372.3 L510.1,372.9 L510.3,373.5 L510.4,374.1 L510.6,374.8 L510.7,375.4 L510.9,376.0 L511.0,376.6 L511.2,377.2 L511.3,377.8 L511.5,378.5 L511.6,379.1 L511.8,379.7 L511.9,380.3 L512.1,381.0 L512.2,381.6 L512.4,382.2" stroke="#d95319" stroke-width="2.4" fill="none" stroke-linejoin="round"/>
<text x="426.3" y="410.9" class="ax">Voltage (V)</text>
<text transform="translate(290.5,322.4) rotate(-90)" class="ax">Power (W)</text>
<rect x="321.2" y="252.5" width="118.4" height="26.3" fill="#fff" stroke="#bdbdbd" stroke-width="0.8"/>
<path d="M322.4,259.4 H327.8" stroke="#0072bd" stroke-width="1.8"/><path d="M322.4,273.1 H327.8" stroke="#d95319" stroke-width="1.8"/>
<text x="328.9" y="264.8" class="lg">Standard test condition</text>
<text x="328.9" y="277.5" class="lg">Shading condition</text>
<circle cx="327.6" cy="290.8" r="6.1" fill="none" stroke="#a2142f" stroke-width="2.5" stroke-dasharray="4.8 1.59"/>
<circle cx="327.7" cy="306.9" r="6.1" fill="none" stroke="#77ac30" stroke-width="2.5" stroke-dasharray="4.8 1.59"/>
<ellipse cx="473.3" cy="287.6" rx="14.9" ry="14.2" fill="none" stroke="#a2142f" stroke-width="2.5" stroke-dasharray="7.2 2.96"/>
<ellipse cx="484.9" cy="331.5" rx="14.9" ry="14.2" fill="none" stroke="#a2142f" stroke-width="2.5" stroke-dasharray="7.2 2.96"/>
<ellipse cx="425.0" cy="339.6" rx="14.9" ry="14.2" fill="none" stroke="#77ac30" stroke-width="2.5" stroke-dasharray="7.2 2.96"/>
<ellipse cx="367.4" cy="354.6" rx="14.9" ry="14.2" fill="none" stroke="#77ac30" stroke-width="2.5" stroke-dasharray="7.2 2.96"/>
<text x="338.2" y="293.2" font-size="12.05" fill="#111">Global Maximum Point</text>
<text x="338.2" y="308.4" font-size="12.05" fill="#111">Local Maximum</text>
<text x="338.2" y="321.7" font-size="12.05" fill="#111">Point</text>
</svg>
</body></html>
